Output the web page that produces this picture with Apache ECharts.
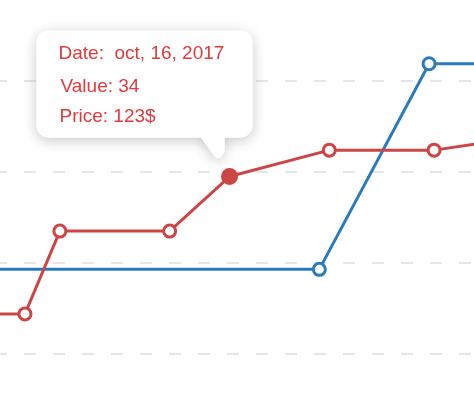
<!DOCTYPE html>
<html>
<head>
<meta charset="utf-8">
<script src="https://cdn.jsdelivr.net/npm/echarts@6/dist/echarts.min.js"></script>
<style>
html,body{margin:0;padding:0;background:#fff;}
#chart{width:474px;height:404px;}
</style>
</head>
<body>
<div id="chart"></div>
<script>
// ---- data ----
const redDates  = ['2017-08-20','2017-09-05','2017-09-12','2017-10-04','2017-10-16','2017-11-05','2017-11-26','2017-12-12'];
const redValues = [14.4, 14.4, 23.5, 23.5, 29.5, 32.4, 32.4, 33.7];
const blueDates  = ['2017-08-20','2017-11-03','2017-11-25','2017-12-12'];
const blueValues = [19.3, 19.3, 41.9, 41.9];
const activeIndex = 4;            // highlighted red point
const tipLines = ['Date:  oct, 16, 2017', 'Value: 34', 'Price: 123$'];
const xMin = '2017-08-31', xMax = '2017-12-04';
const yMin = 4.5, yMax = 48.9;
const gridValues = [10, 20, 30, 40];

const RED = '#cc4646', BLUE = '#2b7bba', TIPRED = '#e03a3c';

const chart = echarts.init(document.getElementById('chart'), null, {renderer: 'canvas'});

function pairs(d, v) { return d.map((x, i) => [x, v[i]]); }

const redData = pairs(redDates, redValues).map((p, i) => i === activeIndex ? {
  value: p, symbolSize: 14, itemStyle: {color: RED, borderColor: RED}
} : p);

chart.setOption({
  animation: false,
  grid: {left: 0, right: 0, top: 0, bottom: 0, containLabel: false},
  xAxis: {
    type: 'time', min: xMin, max: xMax,
    axisLine: {show: false}, axisTick: {show: false}, axisLabel: {show: false}, splitLine: {show: false}
  },
  yAxis: {
    type: 'value', min: yMin, max: yMax,
    axisLine: {show: false}, axisTick: {show: false}, axisLabel: {show: false}, splitLine: {show: false}
  },
  series: [
    {
      type: 'line', data: pairs(blueDates, blueValues), symbol: 'circle', symbolSize: 12,
      lineStyle: {color: BLUE, width: 3},
      itemStyle: {color: '#fff', borderColor: BLUE, borderWidth: 3},
      z: 3,
      markLine: {
        silent: true, symbol: 'none', label: {show: false}, z: 1,
        lineStyle: {color: '#dedede', width: 1.6, type: [12, 17], dashOffset: 5},
        emphasis: {disabled: true},
        data: gridValues.map(v => ({yAxis: v}))
      }
    },
    {
      type: 'line', data: redData, symbol: 'circle', symbolSize: 12,
      lineStyle: {color: RED, width: 3},
      itemStyle: {color: '#fff', borderColor: RED, borderWidth: 3},
      z: 4
    }
  ]
});

// tooltip-like callout anchored to the highlighted point
const pt = chart.convertToPixel({gridIndex: 0}, [redDates[activeIndex], redValues[activeIndex]]);
const px = pt[0], py = pt[1];
const boxX = px - 193, boxY = py - 146, boxW = 216, boxH = 107;
const arrow = [[-30, -41], [-5, -41], [-5, -25], [-8, -20], [-12, -18], [-15, -20]].map(a => [px + a[0], py + a[1]]);
const shadow = {shadowBlur: 14, shadowColor: 'rgba(0,0,0,0.22)', shadowOffsetY: 3};
const textPos = [[-171, -122.5], [-169, -89.5], [-170, -60]];

const graphics = [
  {type: 'rect', shape: {x: boxX, y: boxY, width: boxW, height: boxH, r: 12}, style: Object.assign({fill: '#fff'}, shadow), z: 100},
  {type: 'polygon', shape: {points: arrow}, style: Object.assign({fill: '#fff'}, shadow), z: 100},
  {type: 'rect', shape: {x: boxX, y: boxY, width: boxW, height: boxH, r: 12}, style: {fill: '#fff'}, z: 101},
  {type: 'polygon', shape: {points: arrow}, style: {fill: '#fff'}, z: 101}
];
tipLines.forEach((t, i) => {
  graphics.push({
    type: 'text', x: px + textPos[i][0], y: py + textPos[i][1], z: 102,
    style: {text: t, fill: TIPRED, font: '19px "Liberation Sans", Arial, sans-serif', verticalAlign: 'middle', align: 'left'}
  });
});
chart.setOption({graphic: graphics});
</script>
</body>
</html>
